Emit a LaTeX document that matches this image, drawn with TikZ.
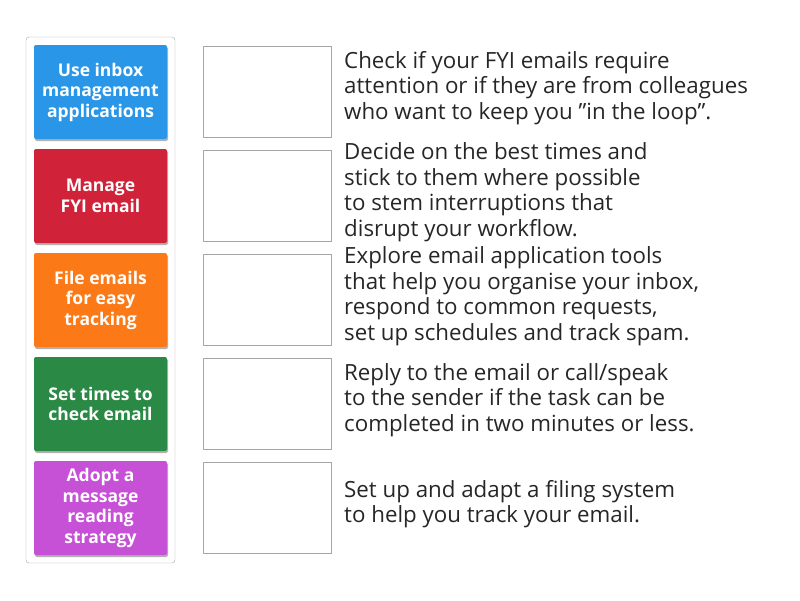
\documentclass[tikz,border=0pt]{standalone}
\usepackage{fontspec}
\setmainfont{Open Sans}
\begin{document}
\begin{tikzpicture}[x=1pt,y=-1pt,
 tile/.style={minimum width=133pt,minimum height=94pt,rounded corners=2pt,text=white,font=\fontsize{17.5}{20.5}\selectfont\bfseries,align=center,inner sep=2pt},
 slot/.style={draw=black!35,fill=white,minimum width=128pt,minimum height=91pt,inner sep=0pt},
 desc/.style={anchor=west,align=left,font=\fontsize{22.3}{25.5}\selectfont,text=black!85,inner sep=0pt}]
\useasboundingbox (0,0) rectangle (800,600);
\definecolor{cb}{HTML}{2A96E8}\definecolor{cr}{HTML}{D0233A}\definecolor{co}{HTML}{FB7A17}
\definecolor{cg}{HTML}{2A8A45}\definecolor{cp}{HTML}{C651D6}
\draw[black!35,fill=white,rounded corners=3pt] (26,37) rectangle (175,563);
\foreach \i/\c/\t in {0/cb/{Use inbox\\management\\applications},1/cr/{Manage\\FYI email},2/co/{File emails\\for easy\\tracking},3/cg/{Set times to\\check email},4/cp/{Adopt a\\message\\reading\\strategy}}{
 \fill[black!30,rounded corners=2pt] (35,{47+104*\i}) rectangle (168,{141+104*\i});
 \node[tile,fill=\c] (t\i) at (100.5,{92+104*\i}) {\t};
 \node[slot] (s\i) at (267,{91.5+104*\i}) {};
}
\node[desc] (d0) at (344,88) {Check if your FYI emails require\\attention or if they are from colleagues\\who want to keep you \char34 in the loop\char34 .};
\node[desc] (d1) at (344,192) {Decide on the best times and\\stick to them where possible\\to stem interruptions that\\disrupt your workflow.};
\node[desc] (d2) at (344,296) {Explore email application tools\\that help you organise your inbox,\\respond to common requests,\\set up schedules and track spam.};
\node[desc] (d3) at (344,400) {Reply to the email or call/speak\\to the sender if the task can be\\completed in two minutes or less.};
\node[desc] (d4) at (344,504) {Set up and adapt a filing system\\to help you track your email.};
\end{tikzpicture}
\end{document}
